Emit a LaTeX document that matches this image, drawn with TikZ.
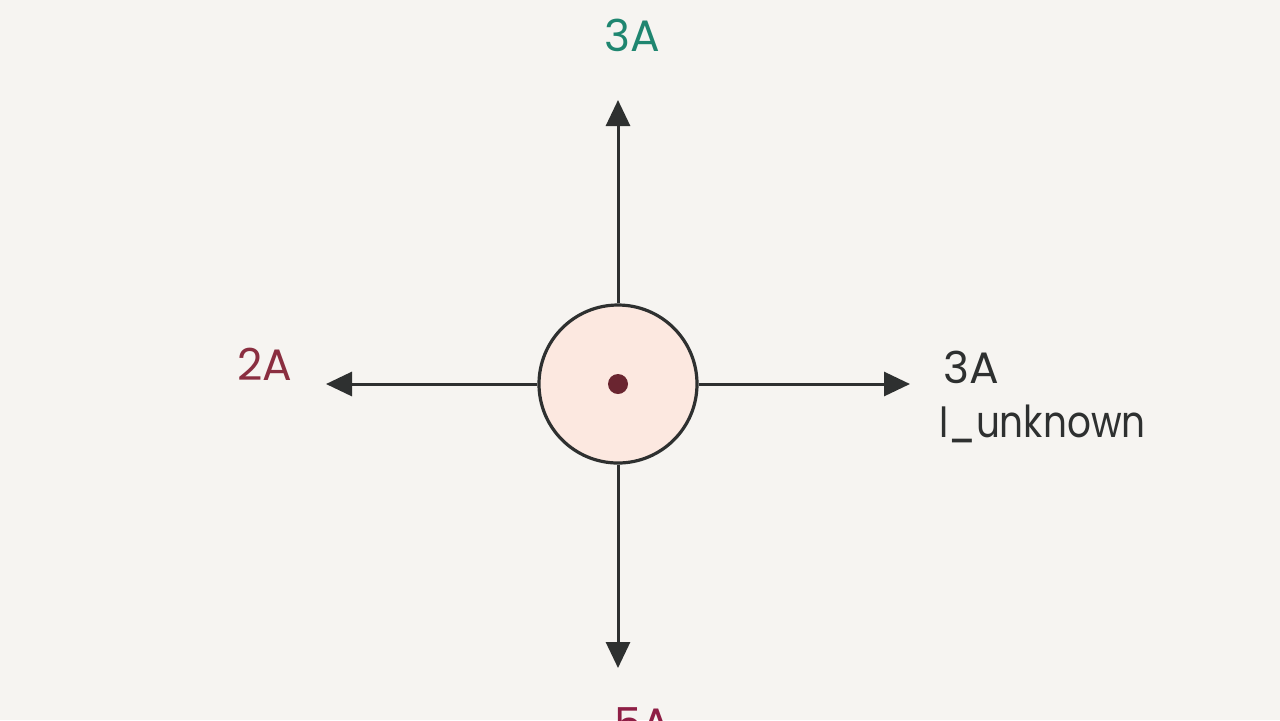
\documentclass[tikz,border=0pt]{standalone}
\usepackage{fontspec}
\setmainfont{Poppins}
\usetikzlibrary{arrows.meta}
\definecolor{bgc}{HTML}{F6F4F1}
\definecolor{inkc}{HTML}{2E3030}
\definecolor{tealc}{HTML}{1F8670}
\definecolor{redc}{HTML}{8A2E40}
\definecolor{crimc}{HTML}{8E1E45}
\definecolor{pinkc}{HTML}{FCE8E0}
\definecolor{dotc}{HTML}{6A2530}
\begin{document}
\begin{tikzpicture}[x=0.5pt,y=-0.5pt,
  wire/.style={draw=inkc,line width=1.5pt,-{Triangle[length=13pt,width=12pt]}},
  lbl/.style={font=\fontsize{22}{26}\selectfont,inner sep=0pt}]
\fill[bgc] (0,0) rectangle (1280,720);
\useasboundingbox (0,0) rectangle (1280,720);
\node[circle,draw=inkc,fill=pinkc,line width=1.6pt,minimum size=79pt,inner sep=0pt] (j) at (618,384) {};
\fill[dotc] (j.center) circle (5pt);
\coordinate (up) at (618,100);
\coordinate (dn) at (618,668);
\coordinate (lf) at (326,384);
\coordinate (rt) at (910,384);
\draw[wire] (j.north) -- (up);
\draw[wire] (j.south) -- (dn);
\draw[wire] (j.west) -- (lf);
\draw[wire] (j.east) -- (rt);
\node[lbl,text=tealc] (ta) at (632,35) {3A};
\node[lbl,text=redc] (la) at (265,364) {2A};
\node[lbl,text=inkc,anchor=west] (ra) at (943,367) {3A};
\node[lbl,text=inkc,anchor=west] (ru) at (939,424) {\scalebox{0.85}[1]{I\_unknown}};
\node[lbl,text=crimc] (ba) at (643,724) {5A};
\end{tikzpicture}
\end{document}
